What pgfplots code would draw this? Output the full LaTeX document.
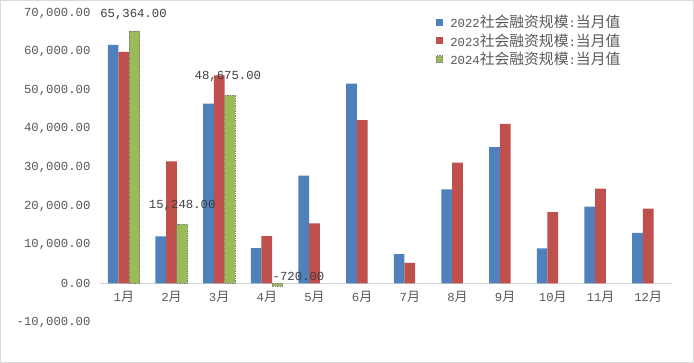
\documentclass[border=0pt]{standalone}
\usepackage{fontspec}
\usepackage{pgfplots}
\pgfplotsset{compat=1.18}
\setmainfont{Liberation Mono}
\newfontfamily\cjk{Noto Sans CJK SC}
\definecolor{c22}{HTML}{4F81BD}
\definecolor{c23}{HTML}{C0504D}
\definecolor{c24}{HTML}{9BBB59}
\definecolor{txt}{HTML}{595959}
\definecolor{lbl}{HTML}{404040}
\newcommand{\M}{{\cjk\fontsize{13}{14}\selectfont 月}}
\newcommand{\leg}[1]{\hspace{5pt}#1{\cjk\fontsize{14.8}{15}\selectfont 社会融资规模}:{\cjk\fontsize{14.8}{15}\selectfont 当月值}}
\pgfplotsset{sq legend/.style={legend image code/.code={\path[##1] (0pt,-3.5pt) rectangle (6.5pt,3.5pt);}}}
\begin{document}
\begin{tikzpicture}[x=1pt,y=1pt]
\fill[white] (0,0) rectangle (694,363);
\draw[gray!30, line width=1pt] (0.5,0.5) rectangle (693.5,362.5);
\begin{axis}[
  at={(100pt,41pt)}, anchor=south west,
  scale only axis, width=572pt, height=309pt,
  xmin=0.5, xmax=12.5, ymin=-10000, ymax=70000,
  scaled y ticks=false,
  ybar=0pt, bar width=10.7pt,
  axis x line*=middle, axis y line*=left,
  x axis line style={draw=gray!35, line width=1.2pt},
  y axis line style={draw=none},
  major tick length=0pt,
  xtick={1,...,12},
  xticklabels={1\M,2\M,3\M,4\M,5\M,6\M,7\M,8\M,9\M,10\M,11\M,12\M},
  ytick={-10000,0,10000,20000,30000,40000,50000,60000,70000},
  yticklabels={-10{,}000.00,0.00,10{,}000.00,20{,}000.00,30{,}000.00,40{,}000.00,50{,}000.00,60{,}000.00,70{,}000.00},
  tick label style={font=\fontsize{12.3}{14}\selectfont, text=txt},
  xticklabel style={yshift=-4pt},
  yticklabel style={xshift=-6pt},
  clip=false,
  legend style={draw=none, fill=none, at={(0.587,1.0)}, anchor=north west,
    font=\fontsize{12.3}{14}\selectfont, text=txt, row sep=0.5pt, inner sep=0pt,
    nodes={inner xsep=2pt}},
  legend cell align=left,
]
\addplot[fill=c22, draw=none, sq legend] coordinates {
(1,61726) (2,12166) (3,46531) (4,9102) (5,27921) (6,51733) (7,7561) (8,24327) (9,35274) (10,9079) (11,19837) (12,13058)};
\addplot[fill=c23, draw=none, sq legend] coordinates {
(1,59956) (2,31553) (3,53873) (4,12249) (5,15554) (6,42265) (7,5282) (8,31279) (9,41300) (10,18441) (11,24505) (12,19326)};
\addplot[fill=c24, draw=gray, dash pattern=on 1.5pt off 1pt, line width=0.8pt, sq legend,
  point meta=explicit symbolic,
  visualization depends on={value \thisrow{dx}\as\dx},
  visualization depends on={value \thisrow{dy}\as\dy},
  nodes near coords,
  every node near coord/.append style={anchor=center, xshift=\dx pt, yshift=\dy pt,
     font=\fontsize{12.3}{14}\selectfont, text=lbl, solid}]
  table[x=x, y=y, meta=lbl] {
x y lbl dx dy
1 65364 65,364.00 -1 16.3
2 15248 15,248.00 0 18.5
3 48675 48,675.00 -2 18.6
4 -720 -720.00 21 9.4
};
\legend{\leg{2022},\leg{2023},\leg{2024}}
\end{axis}
\pgfresetboundingbox
\useasboundingbox (0,0) rectangle (694,363);
\end{tikzpicture}
\end{document}
